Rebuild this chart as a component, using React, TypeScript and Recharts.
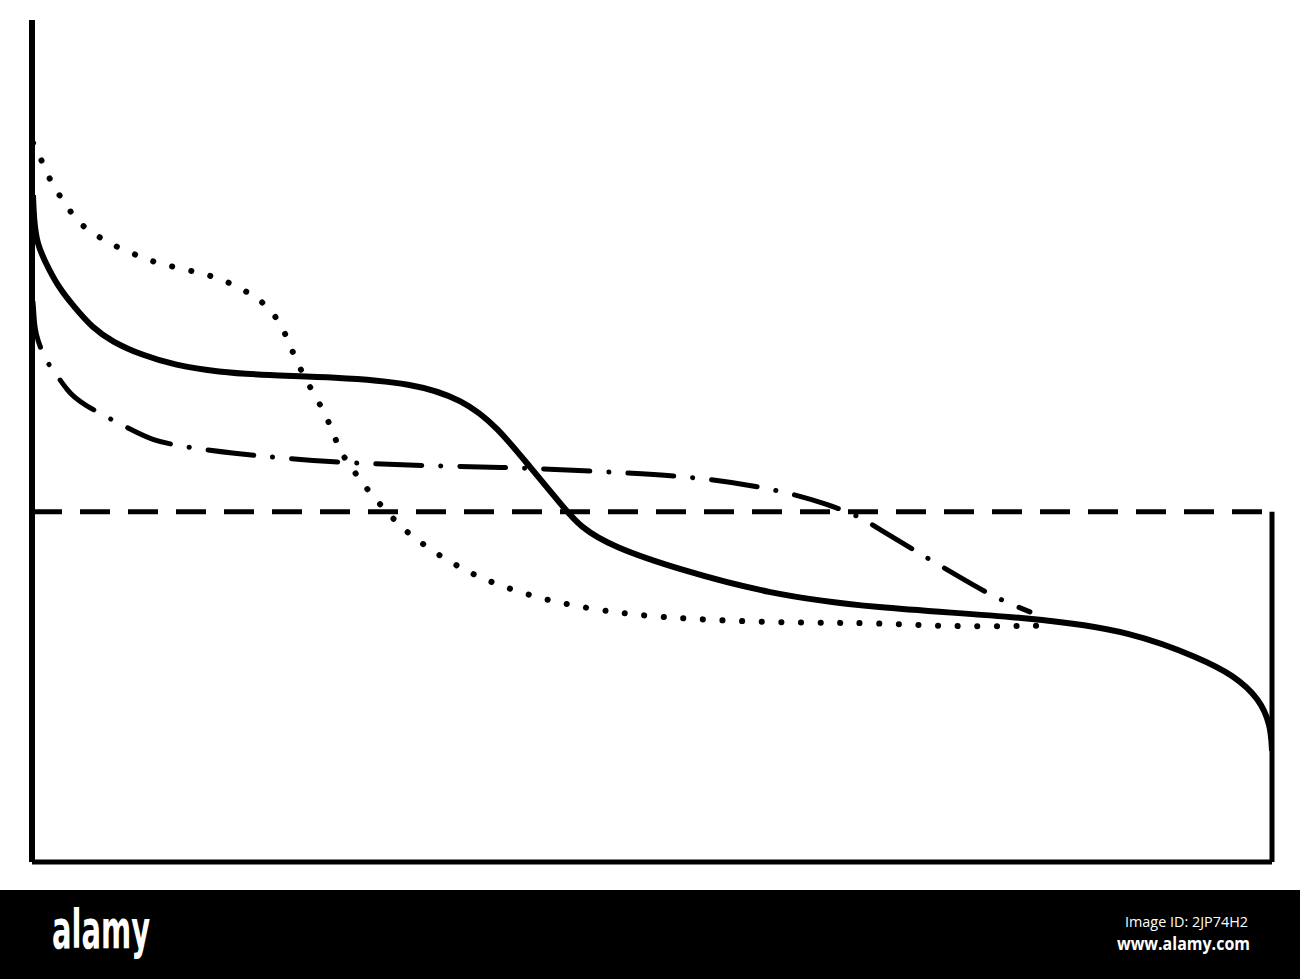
import React from "react";
import { LineChart, Line, XAxis, YAxis, ReferenceLine } from "recharts";

// Abstract units: x 0..100 across the frame, y 0..100 up the left axis
const solidX = [0.08, 0.16, 0.4, 1.05, 2.1, 3.47, 4.84, 6.45, 8.87, 11.53, 15.0, 18.95, 24.27, 30.73, 34.76, 37.5, 40.16, 42.82, 44.19, 46.85, 52.26, 59.27, 67.34, 81.3, 88.8, 94.2, 96.9, 99.0, 99.9, 100];
const solidY = [79.2, 76.2, 73.5, 71.3, 68.3, 65.8, 63.5, 61.8, 60.2, 59.0, 58.2, 57.8, 57.6, 56.9, 54.9, 51.7, 46.9, 42.2, 39.8, 37.4, 34.7, 31.9, 30.2, 29.0, 27.3, 24.2, 22.2, 19.4, 16.2, 13.2];

const dottedX = [0.08, 0.89, 1.61, 2.66, 3.63, 4.92, 6.29, 8.06, 9.68, 11.37, 13.15, 14.76, 16.37, 17.82, 19.03, 20.16, 20.81, 21.85, 23.39, 24.19, 24.84, 25.89, 27.02, 29.68, 31.29, 33.06, 34.76, 36.37, 39.92, 43.39, 47.18, 50.48, 56.53, 62.98, 68.15, 74.6, 82.1];
const dottedY = [85.4, 83.0, 80.4, 78.3, 76.0, 74.7, 73.4, 72.3, 71.3, 70.7, 70.1, 69.5, 68.5, 67.3, 66.0, 63.7, 61.3, 57.8, 54.0, 51.4, 48.7, 46.6, 44.2, 39.8, 38.0, 36.2, 34.8, 33.6, 31.7, 30.5, 29.6, 29.1, 28.6, 28.4, 28.4, 27.9, 28.1];

const dashDotX = [0.08, 0.16, 0.24, 1.05, 2.1, 2.82, 3.71, 8.31, 9.76, 11.53, 15.56, 24.27, 33.47, 40.16, 48.23, 53.87, 60.32, 64.35, 66.77, 68.15, 71.05, 74.27, 77.5, 80.48];
const dashDotY = [66.5, 65.0, 62.8, 59.6, 57.6, 56.1, 54.6, 51.1, 50.1, 49.5, 48.6, 47.4, 47.0, 46.8, 46.2, 45.7, 44.2, 42.4, 41.0, 39.7, 37.1, 34.3, 31.5, 29.7];

const dashedX = [0, 100];
const dashedY = [41.6, 41.6];

const frameRightTop = 41.6;

const toRows = (xs: number[], ys: number[]) => xs.map((x, i) => ({ x, y: ys[i] }));

const narrow = "'Liberation Sans Narrow', 'DejaVu Sans Condensed', 'Liberation Sans', sans-serif";
const idFont = "'Open Sans', 'Noto Sans', sans-serif";

export default function App() {
  const solid = toRows(solidX, solidY);
  const dotted = toRows(dottedX, dottedY);
  const dashDot = toRows(dashDotX, dashDotY);
  const dashed = toRows(dashedX, dashedY);
  return (
    <div style={{ position: "absolute", left: 0, top: 0, width: 1300, height: 979, background: "#fff" }}>
      <LineChart width={1300} height={890} margin={{ top: 20, right: 28, bottom: 28, left: 32 }}>
        <XAxis type="number" dataKey="x" domain={[0, 100]} hide height={0} allowDataOverflow />
        <YAxis type="number" dataKey="y" domain={[0, 100]} hide width={0} allowDataOverflow />
        <ReferenceLine x={0} stroke="#000" strokeWidth={6} ifOverflow="visible" />
        <ReferenceLine y={0} stroke="#000" strokeWidth={5} ifOverflow="visible" />
        <ReferenceLine segment={[{ x: 100, y: 0 }, { x: 100, y: frameRightTop }]} stroke="#000" strokeWidth={5} ifOverflow="visible" />
        <Line data={dashed} dataKey="y" type="linear" stroke="#000" strokeWidth={5} strokeDasharray="30 18" dot={false} activeDot={false} isAnimationActive={false} />
        <Line data={dashDot} dataKey="y" type="basis" stroke="#000" strokeWidth={5} strokeLinecap="round" strokeDasharray="46 19 0.1 19" dot={false} activeDot={false} isAnimationActive={false} />
        <Line data={dotted} dataKey="y" type="basis" stroke="#000" strokeWidth={6} strokeLinecap="round" strokeDasharray="0.1 19.5" dot={false} activeDot={false} isAnimationActive={false} />
        <Line data={solid} dataKey="y" type="basis" stroke="#000" strokeWidth={6} dot={false} activeDot={false} isAnimationActive={false} />
      </LineChart>
      <svg width={1300} height={89} style={{ display: "block", background: "#000" }}>
        <text x={52} y={58} fill="#fff" fontFamily={narrow} fontWeight="bold" fontSize={53} textLength={98} lengthAdjust="spacingAndGlyphs">alamy</text>
        <text x={1125} y={37} fill="#fff" fontFamily={idFont} fontSize={14} textLength={123} lengthAdjust="spacingAndGlyphs">Image ID: 2JP74H2</text>
        <text x={1117} y={60} fill="#fff" fontFamily={idFont} fontWeight="bold" fontSize={17} textLength={133} lengthAdjust="spacingAndGlyphs">www.alamy.com</text>
      </svg>
    </div>
  );
}
